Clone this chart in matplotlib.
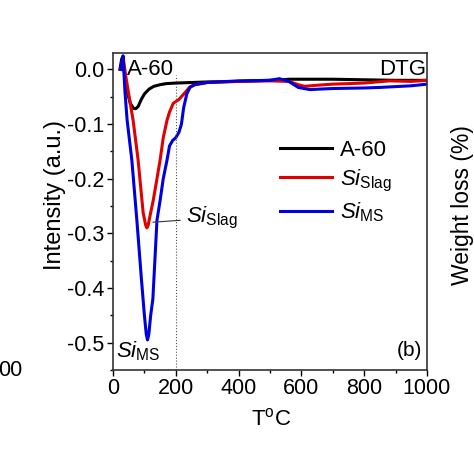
import matplotlib
matplotlib.use("Agg")
import matplotlib.pyplot as plt
from matplotlib.ticker import MultipleLocator

plt.rcParams['font.family'] = ['Liberation Sans', 'DejaVu Sans']
plt.rcParams['mathtext.fontset'] = 'custom'
plt.rcParams['mathtext.rm'] = 'Liberation Sans'
plt.rcParams['mathtext.it'] = 'Liberation Sans:italic'

# A-60
t_a60 = [22, 28, 35, 45, 55, 65, 72, 80, 90, 100, 115, 130, 150, 170, 200, 250, 300, 400, 500, 540, 560, 600, 700, 800, 900, 1000]
v_a60 = [0.0, 0.02, 0.0, -0.04, -0.062, -0.071, -0.072, -0.068, -0.055, -0.045, -0.036, -0.031, -0.028, -0.026, -0.025, -0.024, -0.023, -0.022, -0.02, -0.019, -0.018, -0.018, -0.018, -0.019, -0.02, -0.02]

# Si_Slag
t_slag = [25, 32, 40, 50, 64, 80, 96, 104, 108, 112, 120, 128, 140, 150, 160, 172, 180, 192, 210, 230, 245, 260, 300, 400, 500, 560, 590, 610, 650, 700, 800, 880, 950, 1000]
v_slag = [0.0, 0.024, -0.01, -0.045, -0.093, -0.166, -0.262, -0.285, -0.29, -0.285, -0.262, -0.24, -0.2, -0.166, -0.125, -0.093, -0.078, -0.062, -0.055, -0.042, -0.032, -0.028, -0.024, -0.022, -0.021, -0.022, -0.028, -0.031, -0.029, -0.027, -0.025, -0.021, -0.022, -0.02]

# Si_MS
t_ms = [25, 32, 38, 45, 60, 76, 90, 100, 106, 110, 114, 120, 127, 140, 150, 160, 172, 180, 190, 200, 210, 218, 225, 235, 245, 260, 300, 400, 500, 530, 560, 590, 627, 660, 700, 800, 850, 950, 1000]
v_ms = [0.0, 0.025, -0.04, -0.093, -0.166, -0.276, -0.38, -0.45, -0.485, -0.495, -0.485, -0.45, -0.42, -0.276, -0.24, -0.2, -0.166, -0.14, -0.13, -0.125, -0.115, -0.1, -0.07, -0.045, -0.033, -0.028, -0.024, -0.021, -0.02, -0.017, -0.022, -0.033, -0.037, -0.036, -0.035, -0.034, -0.033, -0.03, -0.027]

xticks = [0, 200, 400, 600, 800, 1000]
yticks = [0.0, -0.1, -0.2, -0.3, -0.4, -0.5]

fig = plt.figure(figsize=(4.74, 4.74), dpi=100)
ax = fig.add_axes([0.2384, 0.2194, 0.6624, 0.6688])

lw = 2.2
ax.plot(t_a60, v_a60, color='black', lw=lw, label='A-60')
ax.plot(t_slag, v_slag, color='#e00000', lw=lw, label=r'$\it{Si}_{\rm Slag}$')
ax.plot(t_ms, v_ms, color='#0000dd', lw=lw, label=r'$\it{Si}_{\rm MS}$')

ax.plot([200, 200], [-0.55, -0.01], color='#555555', lw=0.8, ls=':')

ax.set_xlim(0, 1000)
ax.set_ylim(-0.55, 0.03)
ax.set_xticks(xticks)
ax.set_yticks(yticks)
ax.set_yticklabels([f"{v:.1f}" for v in yticks])
ax.xaxis.set_minor_locator(MultipleLocator(100))
ax.yaxis.set_minor_locator(MultipleLocator(0.05))
ax.tick_params(axis='both', which='major', labelsize=15.5, direction='out', length=4, width=1, pad=2)
ax.tick_params(axis='both', which='minor', direction='out', length=2.5, width=1)
for s in ax.spines.values():
    s.set_linewidth(1.2)
    s.set_color('#333333')

fig.text(271 / 474, 1 - 419 / 474, r'T$^{\rm o}$C', fontsize=16, va='center', ha='center')
fig.text(55 / 474, 1 - 195 / 474, 'Intensity (a.u.)', fontsize=17, rotation=90, va='center', ha='center')

ax.text(45, 0.0, 'A-60', fontsize=16, va='center', ha='left')
ax.text(998, 0.0, 'DTG', fontsize=16, va='center', ha='right')
ax.text(985, -0.515, '(b)', fontsize=15, va='center', ha='right')
ax.text(8, -0.515, r'$\it{Si}_{\rm MS}$', fontsize=16, va='center', ha='left')
ax.annotate(r'$\it{Si}_{\rm Slag}$', xy=(118, -0.28), xytext=(232, -0.272),
            fontsize=16, va='center', ha='left',
            arrowprops=dict(arrowstyle='-', color='#333333', lw=0.8))

ax.legend(loc='upper left', bbox_to_anchor=(0.505, 0.755), frameon=False, fontsize=16,
          handlelength=2.3, handletextpad=0.4, labelspacing=0.32, borderaxespad=0)

# fragments of neighbouring panels
fig.text(-0.005, 1 - 370 / 474, '00', fontsize=15.5, va='center', ha='left')
fig.text(463 / 474, 1 - 205 / 474, 'Weight loss (%)', fontsize=16.5, rotation=90, va='center', ha='center')

fig.savefig('out.png', dpi=100)
